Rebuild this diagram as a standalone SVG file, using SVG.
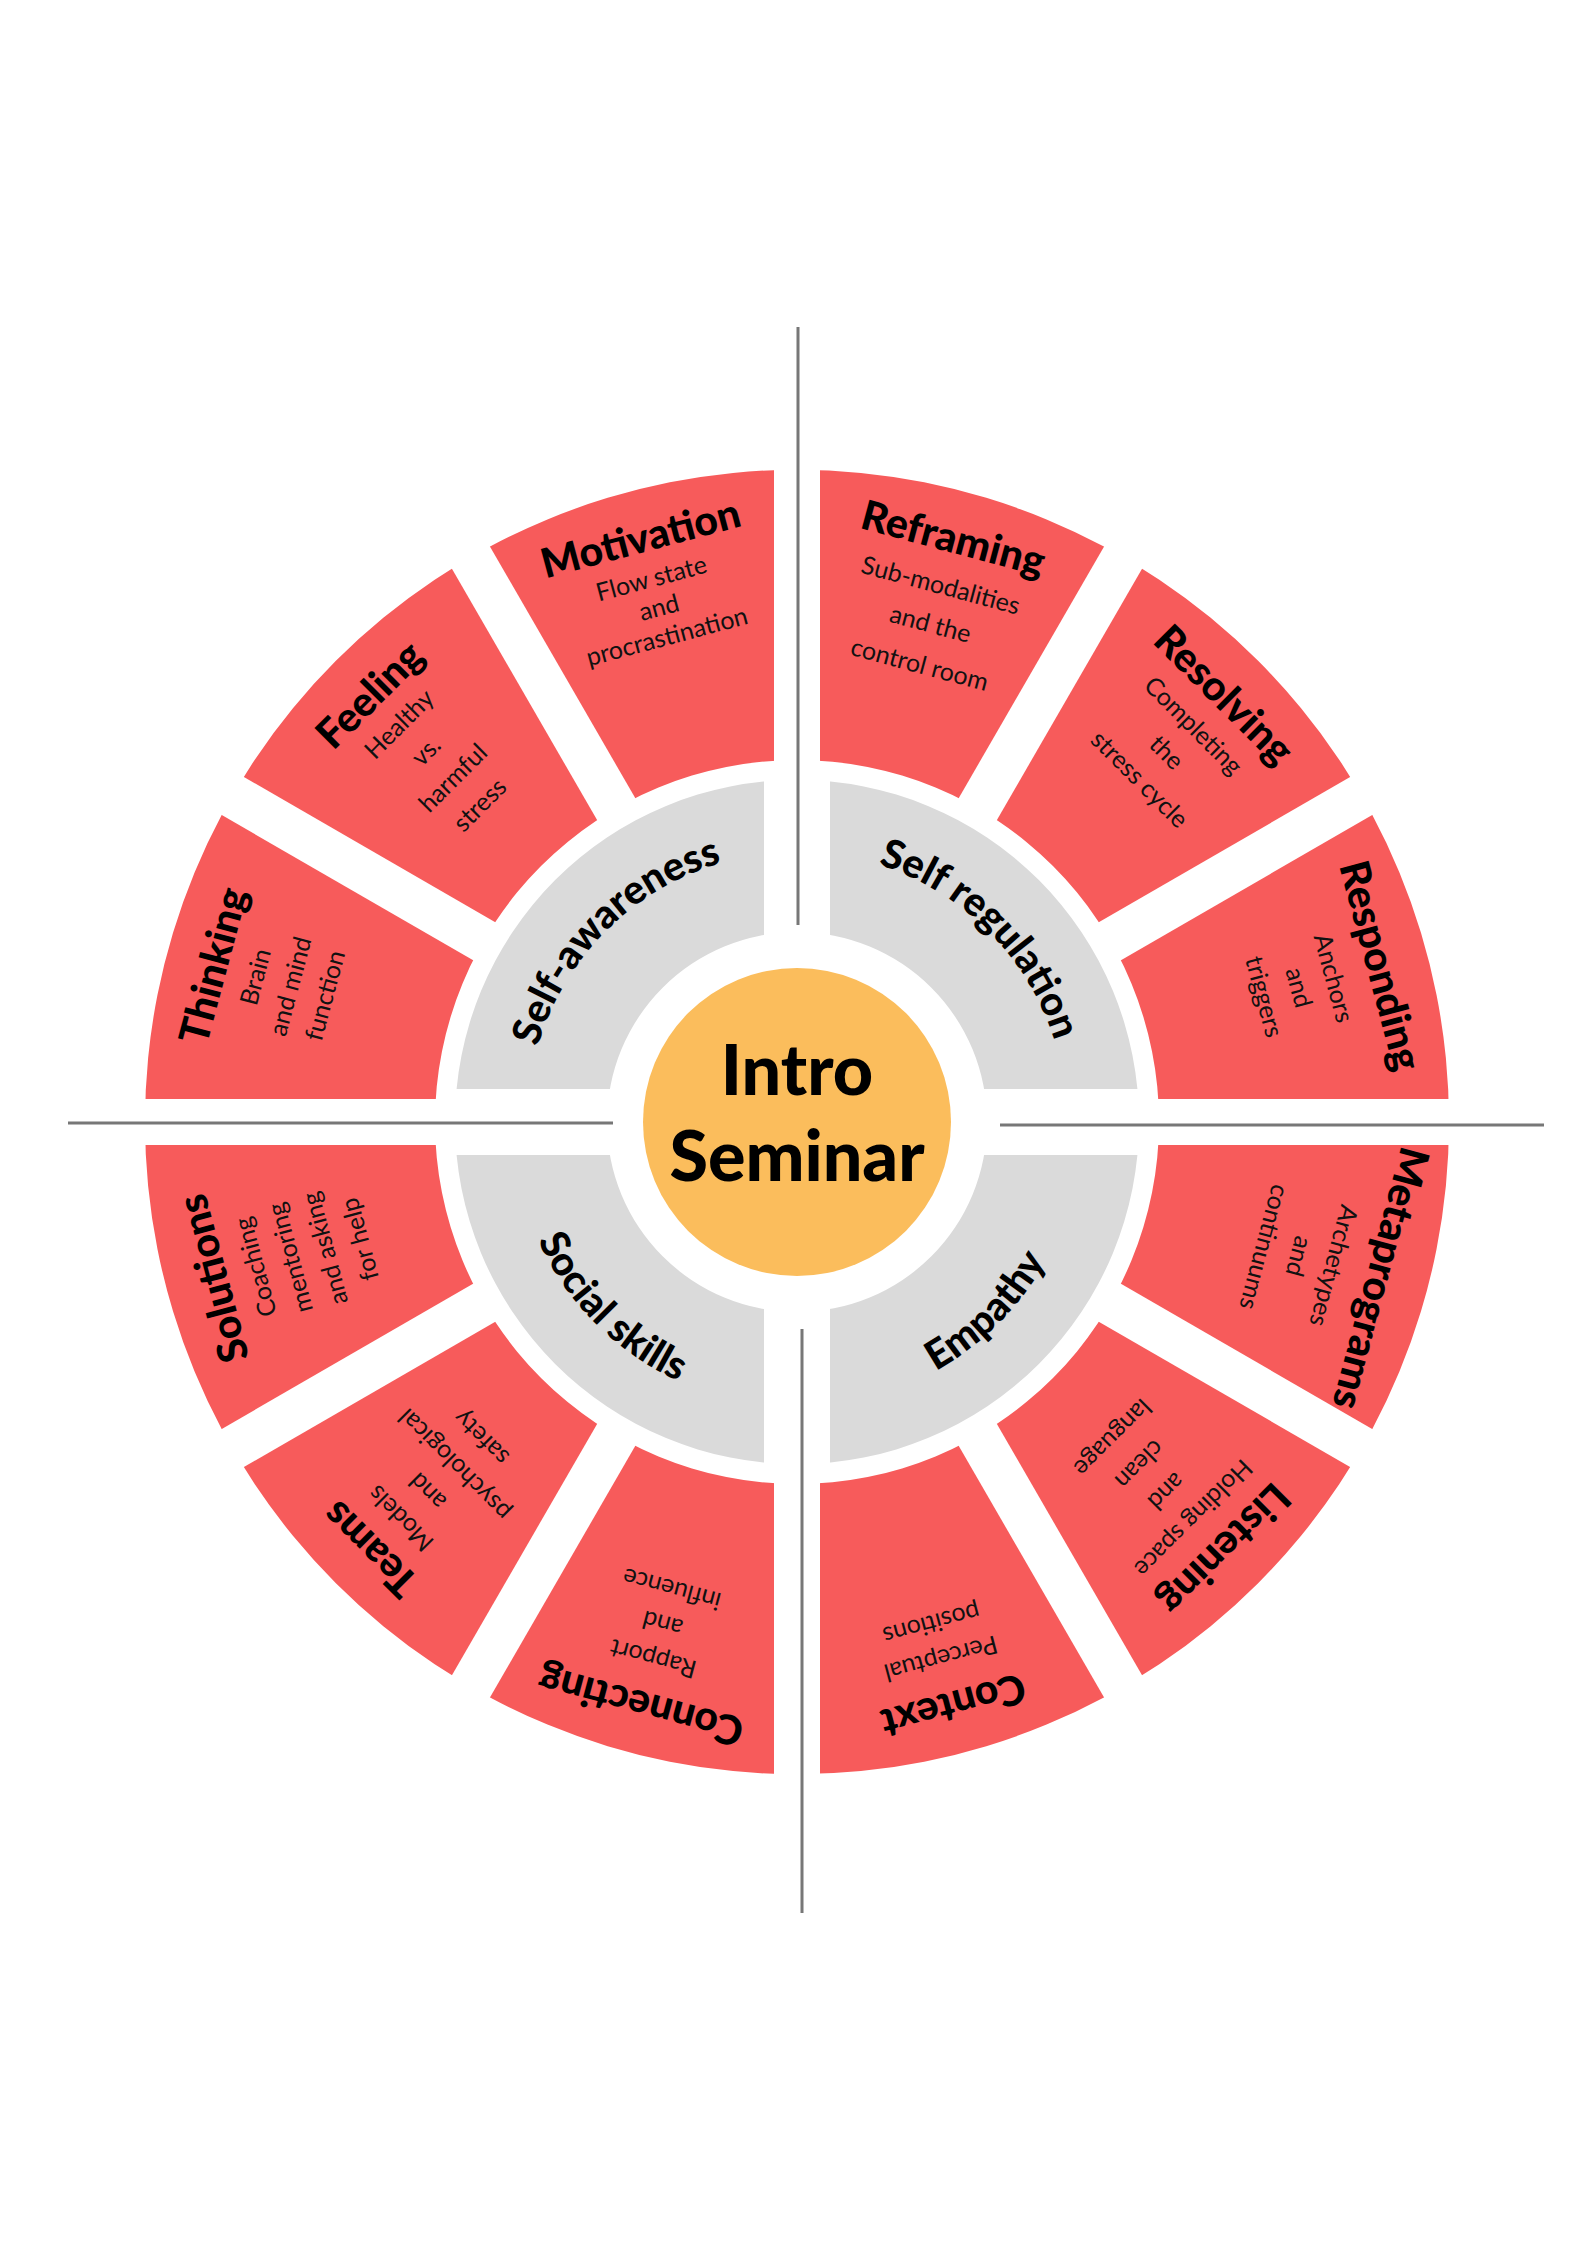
<svg xmlns="http://www.w3.org/2000/svg" width="1587" height="2245" viewBox="0 0 1587 2245">
<style>
.red{fill:#f75b5b}
.gray{fill:#dadada}
.sep{stroke:#fff;stroke-width:44}
.qsep{stroke:#fff;stroke-width:46}
.gsep{stroke:#fff;stroke-width:66}
.ax{stroke:#777;stroke-width:3}
.t{font-family:Lato,"Noto Sans",sans-serif;font-weight:900;font-size:41px;fill:#000;text-anchor:middle}
.s{font-family:Lato,"Noto Sans",sans-serif;font-weight:400;font-size:25px;fill:#111;text-anchor:middle}
.g{font-family:Lato,"Noto Sans",sans-serif;font-weight:900;font-size:40px;fill:#000;text-anchor:middle}
.c{font-family:Lato,"Noto Sans",sans-serif;font-weight:900;font-size:70px;fill:#000;text-anchor:middle}
</style>
<defs>
<path id="pSA" d="M527,1127 A270,270 0 0 1 797,857"/>
<path id="pSR" d="M797,857 A270,270 0 0 1 1067,1127"/>
<path id="pSS" d="M512,1127 A285,285 0 0 0 797,1412"/>
<path id="pEM" d="M797,1412 A285,285 0 0 0 1082,1127"/>
</defs>
<rect width="1587" height="2245" fill="#fff"/>
<g transform="translate(0,-5)">
<g id="ring">
<path class="red" fill-rule="evenodd" d="M145,1127 A652,652 0 1 0 1449,1127 A652,652 0 1 0 145,1127 Z M435,1127 A362,362 0 1 1 1159,1127 A362,362 0 1 1 435,1127 Z"/>
<g class="sep">
<line x1="797" y1="1127" x2="1472" y2="737"/>
<line x1="797" y1="1127" x2="1187" y2="452"/>
<line x1="797" y1="1127" x2="407" y2="452"/>
<line x1="797" y1="1127" x2="122" y2="737"/>
<line x1="797" y1="1127" x2="1472" y2="1517"/>
<line x1="797" y1="1127" x2="1187" y2="1802"/>
<line x1="797" y1="1127" x2="407" y2="1802"/>
<line x1="797" y1="1127" x2="122" y2="1517"/>
</g>
<g class="qsep">
<line x1="797" y1="420" x2="797" y2="1834"/>
<line x1="90" y1="1127" x2="1504" y2="1127"/>
</g>
<path class="gray" fill-rule="evenodd" d="M455,1127 A342,342 0 1 0 1139,1127 A342,342 0 1 0 455,1127 Z M607,1127 A190,190 0 1 1 987,1127 A190,190 0 1 1 607,1127 Z"/>
<g class="gsep">
<line x1="797" y1="770" x2="797" y2="1484"/>
<line x1="440" y1="1127" x2="1154" y2="1127"/>
</g>
</g>
<g id="connectors">
<line class="ax" x1="798" y1="332" x2="798" y2="930"/>
<line class="ax" x1="802" y1="1334" x2="802" y2="1918"/>
<line class="ax" x1="68" y1="1128" x2="613" y2="1128"/>
<line class="ax" x1="1000" y1="1130" x2="1544" y2="1130"/>
</g>
<g id="center">
<circle cx="797" cy="1127" r="154" fill="#fbbd5c"/>
<text class="c" x="797" y="1100">Intro</text>
<text class="c" x="797" y="1186">Seminar</text>
</g>
<g id="self-awareness"><text class="g"><textPath href="#pSA" startOffset="50%">Self-awareness</textPath></text></g>
<g id="self-regulation"><text class="g"><textPath href="#pSR" startOffset="50%">Self  regulation</textPath></text></g>
<g id="social-skills"><text class="g"><textPath href="#pSS" startOffset="50%">Social skills</textPath></text></g>
<g id="empathy"><text class="g"><textPath href="#pEM" startOffset="50%">Empathy</textPath></text></g>
<g id="thinking" transform="rotate(-75 797 1127)">
<text class="t" x="797" y="537">Thinking</text>
<text class="s" x="797" y="575">Brain</text>
<text class="s" x="797" y="611">and mind</text>
<text class="s" x="797" y="647">function</text>
</g>
<g id="feeling" transform="rotate(-45 797 1127)">
<text class="t" x="797" y="537">Feeling</text>
<text class="s" x="797" y="573">Healthy</text>
<text class="s" x="797" y="611">vs.</text>
<text class="s" x="797" y="649">harmful</text>
<text class="s" x="797" y="687">stress</text>
</g>
<g id="motivation" transform="rotate(-15 797 1127)">
<text class="t" x="797" y="537">Motivation</text>
<text class="s" x="797" y="573">Flow state</text>
<text class="s" x="797" y="603">and</text>
<text class="s" x="797" y="633">procrastination</text>
</g>
<g id="reframing" transform="rotate(15 797 1127)">
<text class="t" x="797" y="537">Reframing</text>
<text class="s" x="797" y="580">Sub-modalities</text>
<text class="s" x="797" y="620">and the</text>
<text class="s" x="797" y="662">control room</text>
</g>
<g id="resolving" transform="rotate(45 797 1127)">
<text class="t" x="797" y="537">Resolving</text>
<text class="s" x="797" y="575">Completing</text>
<text class="s" x="797" y="613">the</text>
<text class="s" x="797" y="651">stress cycle</text>
</g>
<g id="responding" transform="rotate(75 797 1127)">
<text class="t" x="797" y="537">Responding</text>
<text class="s" x="797" y="580">Anchors</text>
<text class="s" x="797" y="616">and</text>
<text class="s" x="797" y="652">triggers</text>
</g>
<g id="metaprograms" transform="rotate(105 797 1127)">
<text class="t" x="797" y="537">Metaprograms</text>
<text class="s" x="797" y="580">Archetypes</text>
<text class="s" x="797" y="616">and</text>
<text class="s" x="797" y="652">continuums</text>
</g>
<g id="listening" transform="rotate(135 797 1127)">
<text class="t" x="797" y="537">Listening</text>
<text class="s" x="797" y="575">Holding space</text>
<text class="s" x="797" y="613">and</text>
<text class="s" x="797" y="651">clean</text>
<text class="s" x="797" y="689">language</text>
</g>
<g id="context" transform="rotate(165 797 1127)">
<text class="t" x="797" y="537">Context</text>
<text class="s" x="797" y="580">Perceptual</text>
<text class="s" x="797" y="616">positions</text>
</g>
<g id="connecting" transform="rotate(195 797 1127)">
<text class="t" x="797" y="537">Connecting</text>
<text class="s" x="797" y="580">Rapport</text>
<text class="s" x="797" y="616">and</text>
<text class="s" x="797" y="652">influence</text>
</g>
<g id="teams" transform="rotate(225 797 1127)">
<text class="t" x="797" y="537">Teams</text>
<text class="s" x="797" y="575">Models</text>
<text class="s" x="797" y="613">and</text>
<text class="s" x="797" y="651">psychological</text>
<text class="s" x="797" y="689">safety</text>
</g>
<g id="solutions" transform="rotate(255 797 1127)">
<text class="t" x="797" y="537">Solutions</text>
<text class="s" x="797" y="575">Coaching</text>
<text class="s" x="797" y="611">mentoring</text>
<text class="s" x="797" y="647">and asking</text>
<text class="s" x="797" y="683">for help</text>
</g>
</g>
</svg>
